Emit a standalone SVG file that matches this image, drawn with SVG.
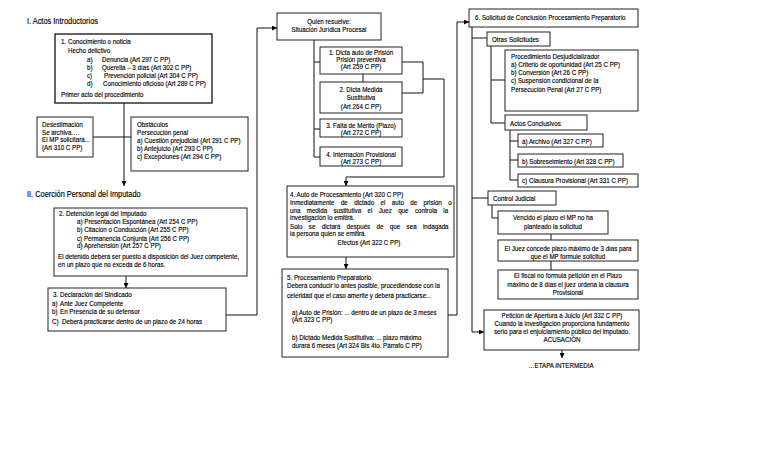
<svg xmlns="http://www.w3.org/2000/svg" width="768" height="466" viewBox="0 0 768 466">
<defs>
<marker id="ah" viewBox="0 0 6 6" refX="6" refY="3" markerWidth="5" markerHeight="5" orient="auto" markerUnits="userSpaceOnUse">
<path d="M0,0 L6,3 L0,6 z" fill="#000"/>
</marker>
<style>
text{font-family:"Liberation Sans",Arial,sans-serif;font-size:7.5px;fill:#000;stroke:#000;stroke-width:0.15}
.h{font-size:8.5px}
.c{text-anchor:middle}
.j{word-spacing:5.6px}
rect{fill:#fff;stroke:#222;stroke-width:1}
.thick{stroke-width:1.4}
.ln{fill:none;stroke:#111;stroke-width:1}
</style>
</defs>
<rect x="0" y="0" width="768" height="466" style="fill:#fff;stroke:none"/>

<text class="h" transform="matrix(.87 0 0 1 27 24)">I. Actos Introductorios</text>
<text class="h" transform="matrix(.87 0 0 1 27 197)">II.  Coerción Personal del Imputado</text>

<g id="connectors">
<path class="ln" d="M124,103 V186" marker-end="url(#ah)"/>
<path class="ln" d="M93,137 H131"/>
<path class="ln" d="M126,276 V288" marker-end="url(#ah)"/>
<path class="ln" d="M226,315 H257 V28 H277" marker-end="url(#ah)"/>
<path class="ln" d="M314,40 V157 M314,62 H320 M314,129 H320 M314,157 H320"/>
<path class="ln" d="M363,74 V82"/>
<path class="ln" d="M402,62 H423 V93 H402 M423,79 H444 V177 H346 V186" marker-end="url(#ah)"/>
<path class="ln" d="M346,257 V269" marker-end="url(#ah)"/>
<path class="ln" d="M448,315 H457 V22 H469" marker-end="url(#ah)"/>
<path class="ln" d="M472,27 V332 H484" marker-end="url(#ah)"/>
<path class="ln" d="M472,38 H487 M472,198 H488"/>
<path class="ln" d="M491,46 V123 H505 M491,80 H505"/>
<path class="ln" d="M510,130 V180 H518 M510,141 H518 M510,160 H518"/>
<path class="ln" d="M492,205 V218 H498"/>
<path class="ln" d="M551,234 V240 M551,261 V270"/>
<path class="ln" d="M562,350 V358" marker-end="url(#ah)"/>
</g>

<g id="n1">
<rect class="thick" x="55" y="34" width="157" height="69"/>
<text transform="matrix(.83 0 0 1 61 44)">1. Conocimiento o noticia</text>
<text transform="matrix(.83 0 0 1 68 53)">Hecho delictivo</text>
<text transform="matrix(.83 0 0 1 87 62)">a)</text><text transform="matrix(.83 0 0 1 102 62)">Denuncia (Art 297 C PP)</text>
<text transform="matrix(.83 0 0 1 87 70)">b)</text><text transform="matrix(.83 0 0 1 102 70)">Querella – 3 días (Art 302 C PP)</text>
<text transform="matrix(.83 0 0 1 87 78)">c)</text><text transform="matrix(.83 0 0 1 104 78)">Prevención policial (Art 304 C PP)</text>
<text transform="matrix(.83 0 0 1 87 86)">d)</text><text transform="matrix(.83 0 0 1 103 86)">Conocimiento oficioso (Art 289 C PP)</text>
<text transform="matrix(.83 0 0 1 61 96.5)">Primer acto del procedimiento</text>
</g>

<g id="n-desestimacion">
<rect x="37" y="117" width="56" height="40"/>
<text transform="matrix(.83 0 0 1 42 126.5)">Desestimación</text>
<text transform="matrix(.83 0 0 1 42 134.5)">Se archiva….</text>
<text transform="matrix(.83 0 0 1 42 142)">El MP solicitara...</text>
<text transform="matrix(.83 0 0 1 42 150)">(Art 310 C PP)</text>
</g>

<g id="n-obstaculos">
<rect x="131" y="117" width="117" height="54"/>
<text transform="matrix(.83 0 0 1 137 126.5)">Obstáculos</text>
<text transform="matrix(.83 0 0 1 137 134.5)">Persecución penal</text>
<text transform="matrix(.83 0 0 1 137 142.5)">a) Cuestión prejudicial (Art 291 C PP)</text>
<text transform="matrix(.83 0 0 1 137 150.5)">b) Antejuicio (Art 293 C PP)</text>
<text transform="matrix(.83 0 0 1 137 158.5)">c) Excepciones (Art 294 C PP)</text>
</g>

<g id="n2">
<rect x="54" y="208" width="193" height="68"/>
<text transform="matrix(.83 0 0 1 59 216)">2. Detención legal del Imputado</text>
<text transform="matrix(.83 0 0 1 77 224)">a) Presentación Espontánea (Art 254 C PP)</text>
<text transform="matrix(.83 0 0 1 77 232)">b) Citación o Conducción (Art 255 C PP)</text>
<text transform="matrix(.83 0 0 1 77 240.5)">c) Permanencia Conjunta (Art 256 C PP)</text>
<text transform="matrix(.83 0 0 1 77 248)">d) Aprehensión (Art 257 C PP)</text>
<text transform="matrix(.83 0 0 1 58 259)">El detenido deberá ser puesto a disposición del Juez competente,</text>
<text transform="matrix(.83 0 0 1 58 266.5)">en un plazo que no exceda de 6 horas.</text>
</g>

<g id="n3">
<rect x="48" y="288" width="178" height="43"/>
<text transform="matrix(.83 0 0 1 53 297)">3. Declaración del Sindicado</text>
<text transform="matrix(.83 0 0 1 52 305.5)">a)</text><text transform="matrix(.83 0 0 1 60 305.5)">Ante Juez Competente</text>
<text transform="matrix(.83 0 0 1 52 314)">b)</text><text transform="matrix(.83 0 0 1 60 314)">En Presencia de su defensor</text>
<text transform="matrix(.83 0 0 1 52 323.5)">C)</text><text transform="matrix(.83 0 0 1 62 323.5)">Deberá practicarse dentro de un plazo de 24 horas</text>
</g>

<g id="n-quien">
<rect x="277" y="13" width="104" height="27"/>
<text class="c" transform="matrix(.83 0 0 1 329 24)">Quien resuelve:</text>
<text class="c" transform="matrix(.83 0 0 1 329 32)">Situación Jurídica Procesal</text>
</g>

<g id="d1">
<rect x="320" y="47" width="82" height="27"/>
<text class="c" transform="matrix(.83 0 0 1 361 54.5)">1. Dicta auto de Prisión</text>
<text class="c" transform="matrix(.83 0 0 1 361 62)">Prisión preventiva</text>
<text class="c" transform="matrix(.83 0 0 1 361 69)">(Art 259 C PP)</text>
</g>
<g id="d2">
<rect x="320" y="82" width="82" height="31"/>
<text class="c" transform="matrix(.83 0 0 1 361 91.5)">2. Dicta Medida</text>
<text class="c" transform="matrix(.83 0 0 1 361 99.5)">Sustitutiva</text>
<text class="c" transform="matrix(.83 0 0 1 361 108.5)">(Art 264 C PP)</text>
</g>
<g id="d3">
<rect x="320" y="119" width="82" height="18"/>
<text class="c" transform="matrix(.83 0 0 1 361 127.5)">3. Falta de Mérito (Plazo)</text>
<text class="c" transform="matrix(.83 0 0 1 361 134.5)">(Art 272 C PP)</text>
</g>
<g id="d4">
<rect x="320" y="147" width="82" height="19"/>
<text class="c" transform="matrix(.83 0 0 1 361 156.5)">4. Internación Provisional</text>
<text class="c" transform="matrix(.83 0 0 1 361 164)">(Art 273 C PP)</text>
</g>

<g id="n4">
<rect x="287" y="186" width="167" height="71"/>
<text transform="matrix(.83 0 0 1 290 196.5)">4. Auto de Procesamiento (Art 320 C PP)</text>
<text class="j" transform="matrix(.83 0 0 1 290 204.5)">Inmediatamente de dictado el auto de prisión o</text>
<text class="j" transform="matrix(.83 0 0 1 290 212.5)">una medida sustitutiva el Juez que controla la</text>
<text transform="matrix(.83 0 0 1 290 220)">investigación lo emitirá.</text>
<text class="j" transform="matrix(.83 0 0 1 290 228.5)">Solo se dictará después de que sea indagada</text>
<text transform="matrix(.83 0 0 1 290 236)">la persona quien se emitirá.</text>
<text class="c" transform="matrix(.83 0 0 1 369 244.5)">Efectos (Art 322 C PP)</text>
</g>

<g id="n5">
<rect x="282" y="269" width="166" height="88"/>
<text transform="matrix(.83 0 0 1 287 279.5)">5. Procesamiento Preparatorio</text>
<text transform="matrix(.83 0 0 1 287 288)">Deberá conducir lo antes posible, procediéndose con la</text>
<text transform="matrix(.83 0 0 1 287 297.5)">celeridad que el caso amerite  y deberá practicarse...</text>
<text transform="matrix(.83 0 0 1 292 314.5)">a) Auto de Prisión: ... dentro de un plazo de 3 meses</text>
<text transform="matrix(.83 0 0 1 292 322)">(Art 323 C PP)</text>
<text transform="matrix(.83 0 0 1 292 339.5)">b) Dictado Medida Sustitutiva: ... plazo máximo</text>
<text transform="matrix(.83 0 0 1 292 348)">durará 6 meses (Art 324 Bis 4to. Párrafo C PP)</text>
</g>

<g id="n6">
<rect x="469" y="9" width="169" height="18"/>
<text transform="matrix(.83 0 0 1 475 20)">6.  Solicitud de Conclusión Procesamiento Preparatorio</text>
</g>

<g id="n-otras">
<rect x="487" y="32" width="63" height="14"/>
<text transform="matrix(.83 0 0 1 492 41.5)">Otras Solicitudes</text>
</g>

<g id="n-desjud">
<rect x="505" y="50" width="133" height="61"/>
<text transform="matrix(.83 0 0 1 511 59)">Procedimiento Desjudicializador</text>
<text transform="matrix(.83 0 0 1 511 67)">a) Criterio de oportunidad (Art 25 C PP)</text>
<text transform="matrix(.83 0 0 1 511 75)">b) Conversión (Art 26 C PP)</text>
<text transform="matrix(.83 0 0 1 511 83)">c) Suspensión condicional de la</text>
<text transform="matrix(.83 0 0 1 511 91.5)">Persecución Penal (Art 27 C PP)</text>
</g>

<g id="n-actos">
<rect x="505" y="115" width="82" height="15"/>
<text transform="matrix(.83 0 0 1 510 125.5)">Actos Conclusivos</text>
</g>
<g id="n-archivo">
<rect x="518" y="134" width="85" height="13"/>
<text transform="matrix(.83 0 0 1 522 143.5)">a) Archivo (Art 327 C PP)</text>
</g>
<g id="n-sobre">
<rect x="518" y="154" width="105" height="13"/>
<text transform="matrix(.83 0 0 1 522 163.5)">b) Sobreseimiento (Art 328 C PP)</text>
</g>
<g id="n-clausura">
<rect x="518" y="174" width="120" height="13"/>
<text transform="matrix(.83 0 0 1 522 183)">c) Clausura Provisional (Art 331 C PP)</text>
</g>

<g id="n-control">
<rect x="488" y="191" width="68" height="14"/>
<text transform="matrix(.83 0 0 1 493 200.5)">Control Judicial</text>
</g>
<g id="n-vencido">
<rect x="498" y="211" width="110" height="23"/>
<text class="c" transform="matrix(.83 0 0 1 553 220)">Vencido el plazo el MP no ha</text>
<text class="c" transform="matrix(.83 0 0 1 553 228.5)">planteado la solicitud</text>
</g>
<g id="n-juez">
<rect x="498" y="240" width="140" height="21"/>
<text class="c" transform="matrix(.83 0 0 1 568 250.5)">El Juez concede plazo máximo de 3 días para</text>
<text class="c" transform="matrix(.83 0 0 1 568 258.5)">que el MP formule solicitud</text>
</g>
<g id="n-fiscal">
<rect x="498" y="270" width="140" height="29"/>
<text class="c" transform="matrix(.83 0 0 1 568 278)">El fiscal no formula petición en el Plazo</text>
<text class="c" transform="matrix(.83 0 0 1 568 286.5)">máximo de 8 días el juez ordena la clausura</text>
<text class="c" transform="matrix(.83 0 0 1 568 295)">Provisional</text>
</g>

<g id="n-peticion">
<rect x="484" y="310" width="155" height="40"/>
<text class="c" transform="matrix(.83 0 0 1 562 317.5)">Petición de Apertura a Juicio (Art 332 C PP)</text>
<text class="c" transform="matrix(.83 0 0 1 562 325.5)">Cuando la investigación proporciona fundamento</text>
<text class="c" transform="matrix(.83 0 0 1 562 334)">serio para el enjuiciamiento público del imputado.</text>
<text class="c" transform="matrix(.83 0 0 1 562 342)">ACUSACIÓN</text>
</g>

<g id="n-etapa">
<text class="c" transform="matrix(.83 0 0 1 561 368)">…ETAPA INTERMEDIA</text>
</g>
</svg>
